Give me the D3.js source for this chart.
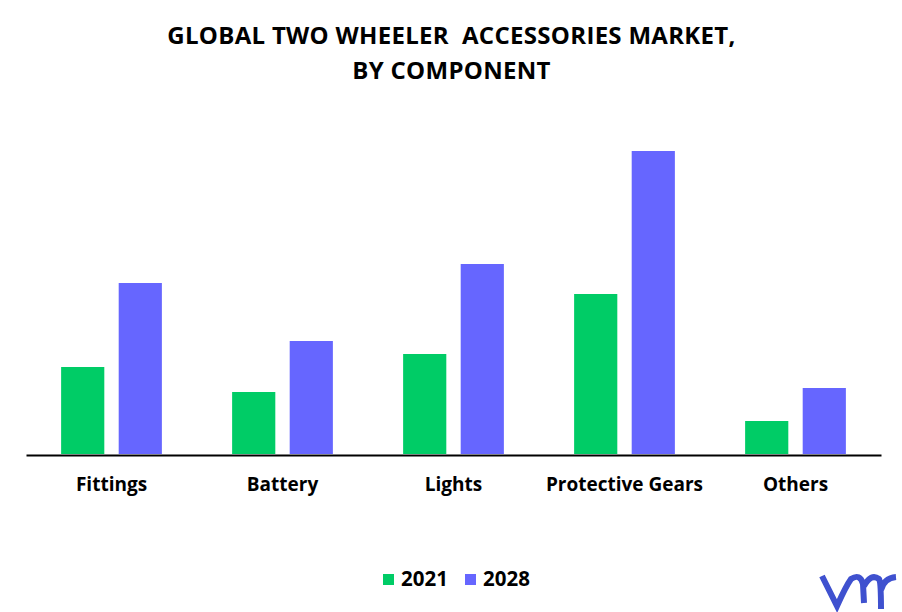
<!DOCTYPE html>
<html>
<head>
<meta charset="utf-8">
<script src="https://cdn.jsdelivr.net/npm/d3@7"></script>
<style>
    html, body { margin: 0; padding: 0; background: #fff; }
    text { font-family: "Open Sans", sans-serif; font-weight: 700; fill: #000; }
    .title { white-space: pre; letter-spacing: 0.3px; }
</style>
</head>
<body>
<div id="chart"></div>
<script>
var WIDTH = 902, HEIGHT = 612;

var titleLines = ["GLOBAL TWO WHEELER  ACCESSORIES MARKET,", "BY COMPONENT"];
var categories = ["Fittings", "Battery", "Lights", "Protective Gears", "Others"];
var seriesNames = ["2021", "2028"];
var values2021 = [87, 62, 100, 160, 33];
var values2028 = [171, 113, 190, 303, 66];
var seriesColors = ["#00cc66", "#6666ff"];

var svg = d3.select("#chart").append("svg")
    .attr("width", WIDTH)
    .attr("height", HEIGHT)
    .style("display", "block");

var baseline = 454;

var x0 = d3.scaleBand().domain(categories).range([26, 881]);
var x1 = d3.scaleBand().domain(seriesNames).range([0, x0.bandwidth()])
    .paddingInner(0.25).paddingOuter(0.61);
// one data unit is about one pixel in the picture
var y = d3.scaleLinear().domain([0, 303]).range([baseline, 151]);
var color = d3.scaleOrdinal().domain(seriesNames).range(seriesColors);

// title
svg.selectAll(".title").data(titleLines).enter().append("text")
    .attr("class", "title")
    .attr("x", 451.5)
    .attr("y", function (d, i) { return 44 + i * 35; })
    .attr("text-anchor", "middle")
    .style("font-size", "24px")
    .text(function (d) { return d; });

// bars
var rows = categories.map(function (c, i) {
    return { category: c, values: [values2021[i], values2028[i]] };
});

var groups = svg.selectAll(".group").data(rows).enter().append("g")
    .attr("class", "group")
    .attr("transform", function (d) { return "translate(" + x0(d.category) + ",0)"; });

groups.selectAll("rect")
    .data(function (d) {
        return seriesNames.map(function (s, i) { return { series: s, value: d.values[i] }; });
    })
    .enter().append("rect")
    .attr("x", function (d) { return x1(d.series); })
    .attr("y", function (d) { return y(d.value); })
    .attr("width", x1.bandwidth())
    .attr("height", function (d) { return baseline - y(d.value); })
    .attr("fill", function (d) { return color(d.series); });

// category axis
var xAxis = svg.append("g")
    .attr("transform", "translate(0," + (baseline + 1) + ")")
    .call(d3.axisBottom(x0).tickSize(0).tickPadding(23));
xAxis.select(".domain").attr("stroke", "#000").attr("stroke-width", 2);
xAxis.selectAll("text")
    .style("font-size", "19px")
    .style("font-family", '"Open Sans", sans-serif');

// legend
var legendX = [383, 465];
var legend = svg.selectAll(".legend").data(seriesNames).enter().append("g")
    .attr("class", "legend")
    .attr("transform", function (d, i) { return "translate(" + legendX[i] + ",574)"; });
legend.append("rect")
    .attr("width", 11)
    .attr("height", 11)
    .attr("fill", function (d) { return color(d); });
legend.append("text")
    .attr("x", 18)
    .attr("y", 12)
    .style("font-size", "20.5px")
    .text(function (d) { return d; });

// logo
svg.append("path")
    .attr("d", "M822 576 L837 606 Q846 586 851 579 Q860 573 863 584 L864 603 M864 586 Q871 573 879 579 Q881 582 881 609 M881 590 Q884 578 896 577")
    .attr("fill", "none")
    .attr("stroke", "#3f51cf")
    .attr("stroke-width", 6);
</script>
</body>
</html>
